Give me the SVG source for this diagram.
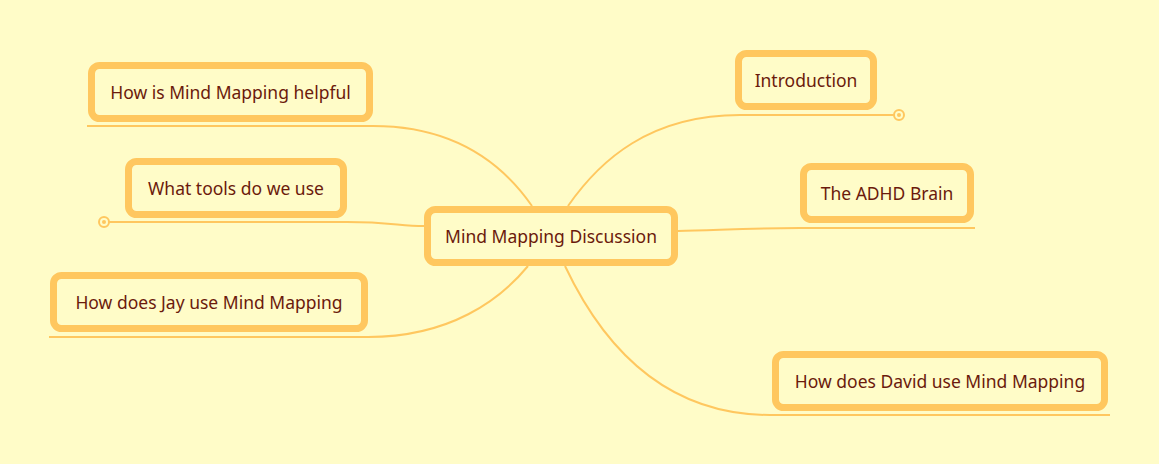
<svg xmlns="http://www.w3.org/2000/svg" width="1159" height="464" viewBox="0 0 1159 464">
<style>
.n{fill:#FFFCC8;stroke:#FFC75F;stroke-width:7}
.t{font-family:"Noto Sans","Liberation Sans",sans-serif;font-size:17.5px;fill:#6B1A0C;text-anchor:middle;dominant-baseline:central}
.c{fill:none;stroke:#FFC75F;stroke-width:2}
.d{fill:#FFFCC8;stroke:#FFC75F;stroke-width:2}
</style>
<rect width="1159" height="464" fill="#FFFCC8"/>
<g id="connectors">
<path class="c" d="M87,126 H373 C450,126 500,160 532,206"/>
<path class="c" d="M898,115 H740 C650,115 600,160 568,206"/>
<path class="c" d="M975,228 H800 C740,228 710,231 678,231"/>
<path class="c" d="M1110,415 H770 C660,415 600,340 565,266"/>
<path class="c" d="M104,222 H347 C390,222 400,226 424,226"/>
<path class="c" d="M49,337 H368 C450,337 500,300 528,266"/>
<circle class="d" cx="899" cy="115" r="5"/><circle cx="899" cy="115" r="2" fill="#FFC75F"/>
<circle class="d" cx="104" cy="222" r="5"/><circle cx="104" cy="222" r="2" fill="#FFC75F"/>
</g>
<g id="center"><rect class="n" x="427.5" y="209.5" width="247" height="53" rx="8"/><text class="t" x="551" y="236">Mind Mapping Discussion</text></g>
<g id="intro"><rect class="n" x="738.5" y="53.5" width="135" height="53" rx="8"/><text class="t" x="806" y="80">Introduction</text></g>
<g id="adhd"><rect class="n" x="803.5" y="166.5" width="167" height="53" rx="8"/><text class="t" x="887" y="193">The ADHD Brain</text></g>
<g id="david"><rect class="n" x="775.5" y="354.5" width="329" height="53" rx="8"/><text class="t" x="940" y="381">How does David use Mind Mapping</text></g>
<g id="helpful"><rect class="n" x="91.5" y="65.5" width="278" height="53" rx="8"/><text class="t" x="230.5" y="92">How is Mind Mapping helpful</text></g>
<g id="tools"><rect class="n" x="128.5" y="161.5" width="215" height="53" rx="8"/><text class="t" x="236" y="188">What tools do we use</text></g>
<g id="jay"><rect class="n" x="53.5" y="275.5" width="311" height="53" rx="8"/><text class="t" x="209" y="302">How does Jay use Mind Mapping</text></g>
</svg>
